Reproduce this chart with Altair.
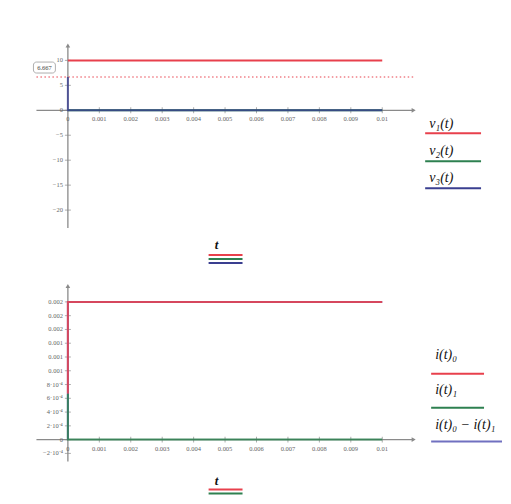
import altair as alt
import pandas as pd

# ---------------- data ----------------
x_tick_values = [0.001, 0.002, 0.003, 0.004, 0.005, 0.006, 0.007, 0.008, 0.009, 0.01]
x_tick_labels = ["0.001", "0.002", "0.003", "0.004", "0.005", "0.006", "0.007", "0.008", "0.009", "0.01"]

v_tick_values = [10, 5, 0, -5, -10, -15, -20]
v_tick_labels = ["10", "5", "0", "−5", "−10", "−15", "−20"]

i_tick_values = [0.002, 0.0018, 0.0016, 0.0014, 0.0012, 0.001, 0.0008, 0.0006, 0.0004, 0.0002, 0, -0.0002]
i_tick_labels = ["0.002", "0.002", "0.002", "0.001", "0.001", "0.001",
                 "8·10⁻⁴", "6·10⁻⁴", "4·10⁻⁴", "2·10⁻⁴", "0", "−2·10⁻⁴"]

v1_t, v1_val = [0, 0.01], [10, 10]
v2_t, v2_val = [0, 0.01], [0, 0]
v3_t, v3_val = [0, 0, 0.01], [6.667, 0, 0]

i0_t, i0_val = [0, 0, 0.01], [0.000667, 0.002, 0.002]
i1_t, i1_val = [0, 0, 0.01], [0.000667, 0, 0]
id_t, id_val = [0, 0, 0.01], [0, 0.002, 0.002]

marker_value = 6.667
marker_label = "6.667"

v_labels = ["v₁(t)", "v₂(t)", "v₃(t)"]
i_labels = ["i(t)₀", "i(t)₁", "i(t)₀ − i(t)₁"]
v_colors = ["#e8404c", "#2e8050", "#3a3f90"]
i_colors = ["#e8404c", "#2e8050", "#7070c0"]

x_axis_range = [-0.001, 0.011]
v_axis_range = [-23.6, 13]
i_axis_range = [-0.000319, 0.002232]

W = 495
H1, H2 = 262, 226
x_domain = [-0.0019048, 0.0138095]
v_domain = [-32.0, 20.4]
i_domain = [-0.00081159, 0.0024638]

AXIS_C = "#8a8a8a"
LABEL_C = "#666666"
SERIF = "Liberation Serif"


def series_df(t, v):
    return pd.DataFrame({"t": t, "v": v, "o": list(range(len(t)))})


def panel(y_domain, y_axis_range, tick_vals, tick_labels, series, legend_labels,
          legend_colors, H, legend_rows, title_pos, title_lines, marker=None):
    xs = alt.Scale(domain=x_domain, nice=False, zero=False)
    ys = alt.Scale(domain=y_domain, nice=False, zero=False)

    def X(**kw):
        return alt.X(scale=xs, axis=None, **kw)

    def Y(**kw):
        return alt.Y(scale=ys, axis=None, **kw)

    layers = []
    # x axis line
    layers.append(alt.Chart().mark_rule(color=AXIS_C, strokeWidth=1.3).encode(
        x=X(datum=x_axis_range[0]), x2=alt.X2(datum=x_axis_range[1]), y=Y(datum=0)))
    # y axis line
    layers.append(alt.Chart().mark_rule(color=AXIS_C, strokeWidth=1.3).encode(
        x=X(datum=0), y=Y(datum=y_axis_range[0]), y2=alt.Y2(datum=y_axis_range[1])))
    # arrows
    layers.append(alt.Chart().mark_point(shape="triangle-right", filled=True, size=22,
                                         color=AXIS_C, opacity=1).encode(
        x=X(datum=x_axis_range[1]), y=Y(datum=0)))
    layers.append(alt.Chart().mark_point(shape="triangle-up", filled=True, size=22,
                                         color=AXIS_C, opacity=1).encode(
        x=X(datum=0), y=Y(datum=y_axis_range[1])))
    # x ticks and labels
    xt = pd.DataFrame({"t": x_tick_values, "lab": x_tick_labels})
    layers.append(alt.Chart(xt).mark_tick(orient="vertical", size=6, thickness=1,
                                          color=AXIS_C).encode(
        x=X(field="t", type="quantitative"), y=Y(datum=0)))
    layers.append(alt.Chart(xt).mark_text(dy=9, fontSize=6.5, font=SERIF,
                                          color=LABEL_C).encode(
        x=X(field="t", type="quantitative"), y=Y(datum=0), text="lab:N"))
    # origin x label
    layers.append(alt.Chart().mark_text(dy=9, fontSize=6.5, font=SERIF,
                                        color=LABEL_C).encode(
        x=X(datum=0), y=Y(datum=0), text=alt.value("0")))
    # y ticks and labels
    yt = pd.DataFrame({"v": tick_vals, "lab": tick_labels})
    layers.append(alt.Chart(yt).mark_tick(orient="horizontal", size=6, thickness=1,
                                          color=AXIS_C).encode(
        x=X(datum=0), y=Y(field="v", type="quantitative")))
    layers.append(alt.Chart(yt).mark_text(dx=-5, align="right", baseline="middle",
                                          fontSize=6.5, font=SERIF, color=LABEL_C).encode(
        x=X(datum=0), y=Y(field="v", type="quantitative"), text="lab:N"))
    # marker (dotted threshold)
    if marker is not None:
        layers.append(alt.Chart().mark_rule(color="#e8404c", strokeWidth=1.2,
                                            strokeDash=[1.5, 2.5]).encode(
            x=X(datum=x_axis_range[0]), x2=alt.X2(datum=x_axis_range[1]),
            y=Y(datum=marker)))
        layers.append(alt.Chart().mark_rect(fill="white", stroke="#9a9a9a",
                                            strokeWidth=0.8, cornerRadius=3,
                                            xOffset=-3, x2Offset=19,
                                            yOffset=-15, y2Offset=-4).encode(
            x=X(datum=x_axis_range[0]), x2=alt.X2(datum=x_axis_range[0]),
            y=Y(datum=marker), y2=alt.Y2(datum=marker)))
        layers.append(alt.Chart().mark_text(fontSize=6.5, font=SERIF, color="#444444",
                                            dx=8, dy=-9.5).encode(
            x=X(datum=x_axis_range[0]), y=Y(datum=marker), text=alt.value(marker_label)))
    # series
    for (df, color, op) in series:
        layers.append(alt.Chart(df).mark_line(color=color, strokeWidth=2,
                                              opacity=op).encode(
            x=X(field="t", type="quantitative"),
            y=Y(field="v", type="quantitative"),
            order="o:Q"))
    # legend (right side)
    for k, (lab, col) in enumerate(zip(legend_labels, legend_colors)):
        tx, ty, lx0, lx1, ly = legend_rows[k]
        layers.append(alt.Chart().mark_text(align="left", baseline="middle",
                                            fontSize=14, font=SERIF, fontStyle="italic",
                                            color="#111111").encode(
            x=alt.value(tx), y=alt.value(ty), text=alt.value(lab)))
        layers.append(alt.Chart().mark_rule(color=col, strokeWidth=2).encode(
            x=alt.value(lx0), x2=alt.value(lx1), y=alt.value(ly)))
    # "t" axis title with line swatches
    layers.append(alt.Chart().mark_text(fontSize=13, font=SERIF, fontStyle="italic",
                                        fontWeight="bold", color="#111111").encode(
        x=alt.value(title_pos[0]), y=alt.value(title_pos[1]), text=alt.value("t")))
    for (ly, col) in title_lines:
        layers.append(alt.Chart().mark_rule(color=col, strokeWidth=2).encode(
            x=alt.value(201), x2=alt.value(235), y=alt.value(ly)))

    return alt.layer(*layers).properties(width=W, height=H)


top = panel(v_domain, v_axis_range, v_tick_values, v_tick_labels,
            [(series_df(v1_t, v1_val), v_colors[0], 1.0),
             (series_df(v2_t, v2_val), v_colors[1], 1.0),
             (series_df(v3_t, v3_val), v_colors[2], 0.8)],
            v_labels, v_colors, H1,
            [(422, 116, 418, 474, 125), (422, 143, 418, 474, 153), (422, 170, 418, 474, 180)],
            (209, 237), [(247, v_colors[0]), (251, v_colors[1]), (255, v_colors[2])],
            marker=marker_value)

bottom = panel(i_domain, i_axis_range, i_tick_values, i_tick_labels,
               [(series_df(id_t, id_val), i_colors[2], 1.0),
                (series_df(i0_t, i0_val), i_colors[0], 0.85),
                (series_df(i1_t, i1_val), i_colors[1], 0.85)],
               i_labels, i_colors, H2,
               [(428, 85, 424, 477, 104), (428, 120, 424, 477, 138), (428, 155, 424, 495, 172)],
               (209, 211), [(220, i_colors[0]), (224, i_colors[1])])

chart = alt.vconcat(top, bottom, spacing=0).properties(padding=0).configure_view(stroke=None)

chart.save("out.html", embed_options={"renderer": "svg", "actions": False})
